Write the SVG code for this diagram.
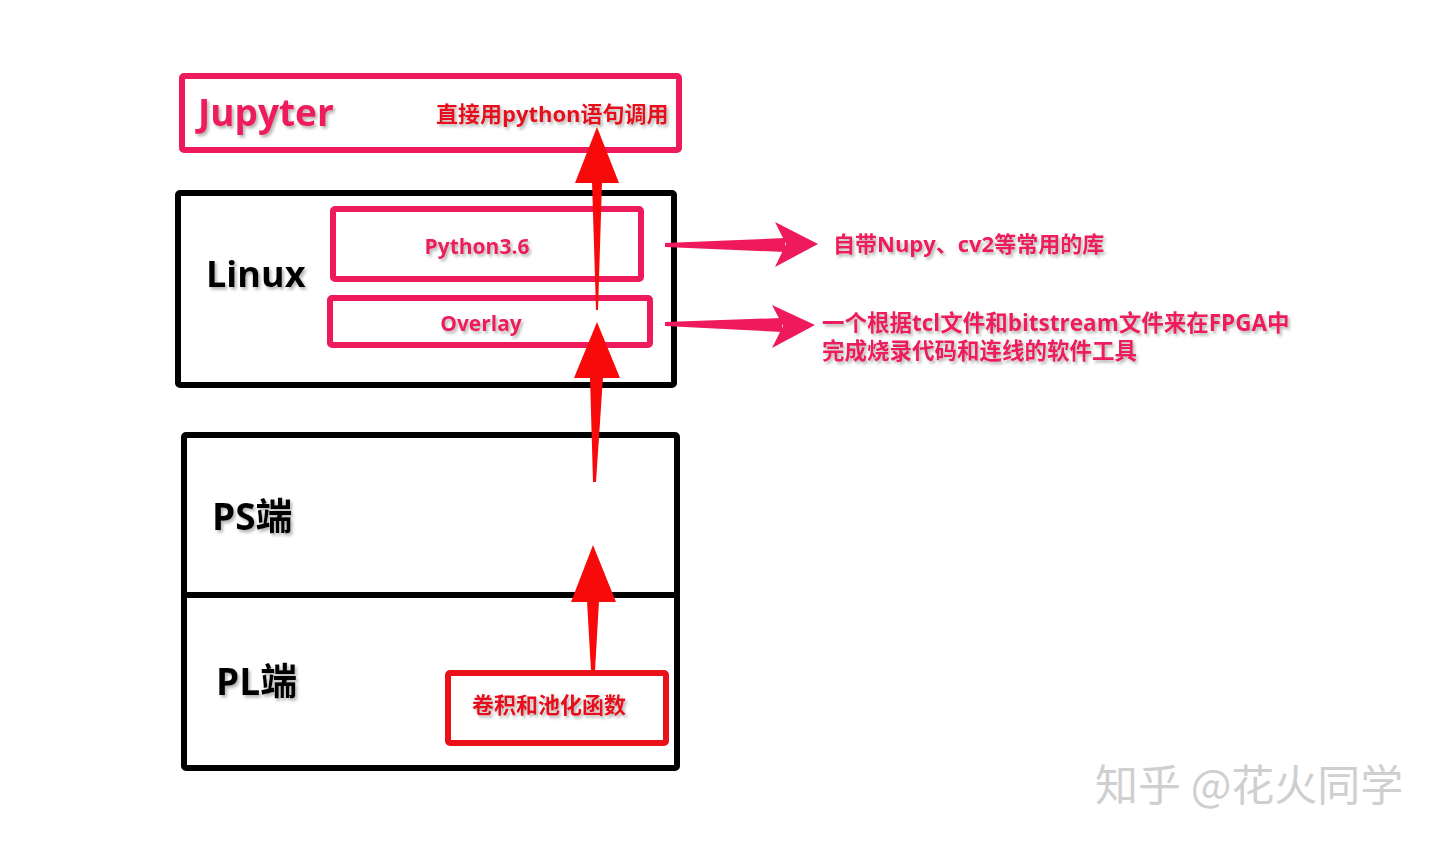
<svg xmlns="http://www.w3.org/2000/svg" width="1440" height="846" viewBox="0 0 1440 846">
<defs>
<filter id="sh" x="-10%" y="-30%" width="120%" height="160%">
<feDropShadow dx="2" dy="2.5" stdDeviation="1.5" flood-color="#777" flood-opacity="0.55"/>
</filter>
<style>
.t{font-family:"Open Sans","Noto Sans CJK SC",sans-serif;font-weight:bold;filter:url(#sh)}
.pink{fill:#ee1a5c}
.red{fill:#e8101a}
.blk{fill:#000}
.pbox{fill:#fff;stroke:#ee1a5c;stroke-width:6}
.kbox{fill:#fff;stroke:#000;stroke-width:6}
.rbox{fill:#fff;stroke:#ea1218;stroke-width:6}
.ra{fill:#f80a0a}
.pa{fill:#ee1a5c}
</style>
</defs>
<rect width="1440" height="846" fill="#fff"/>
<g id="jupyter">
<rect class="pbox" x="182" y="76" width="497" height="74" rx="2"/>
<text class="t pink" x="198" y="126" font-size="37">Jupyter</text>
<text class="t red" x="436" y="122" font-size="22">直接用python语句调用</text>
</g>
<g id="linux">
<rect class="kbox" x="178" y="193" width="496" height="192" rx="2"/>
<text class="t blk" x="206" y="287" font-size="36">Linux</text>
</g>
<g id="python">
<rect class="pbox" x="333" y="209" width="308" height="70" rx="2"/>
<text class="t pink" x="477" y="254" font-size="21" text-anchor="middle">Python3.6</text>
</g>
<g id="overlay">
<rect class="pbox" x="330" y="298" width="320" height="47" rx="2"/>
<text class="t pink" x="481" y="331" font-size="21" text-anchor="middle">Overlay</text>
</g>
<g id="pspl">
<rect class="kbox" x="184" y="435" width="493" height="333" rx="2"/>
<line x1="184" y1="595" x2="677" y2="595" stroke="#000" stroke-width="6"/>
<text class="t blk" x="212" y="530" font-size="37">PS端</text>
<text class="t blk" x="216" y="695" font-size="37">PL端</text>
</g>
<g id="conv">
<rect class="rbox" x="448" y="673" width="218" height="70" rx="2"/>
<text class="t red" x="472" y="713" font-size="22">卷积和池化函数</text>
</g>
<g id="note1">
<text class="t pink" x="833" y="252" font-size="22">自带Nupy、cv2等常用的库</text>
</g>
<g id="note2">
<text class="t pink" x="822" y="331" font-size="22.5">一个根据tcl文件和bitstream文件来在FPGA中</text>
<text class="t pink" x="822" y="359" font-size="22.5">完成烧录代码和连线的软件工具</text>
</g>
<g id="connectors">
<polygon class="ra" points="597,127 575,183 619,183"/>
<polygon class="ra" points="592,182 602,182 598,310 596,310"/>
<polygon class="ra" points="597,322 574,378 620,378"/>
<polygon class="ra" points="590,377 603,377 596,482 593,482"/>
<polygon class="ra" points="593,545 571,602 616,602"/>
<polygon class="ra" points="587,601 599,601 595,671 591,671"/>
<polygon class="pa" points="665,243 785,238 785,252 665,247"/>
<polygon class="pa" points="818,244 775,222 786,244 775,267"/>
<polygon class="pa" points="665,322 782,318 782,332 665,326"/>
<polygon class="pa" points="815,325 772,305 783,326 772,348"/>
</g>
<text x="1095" y="801" font-family="Noto Sans CJK SC, sans-serif" font-size="43" fill="#cfcfcf">知乎 @花火同学</text>
</svg>
